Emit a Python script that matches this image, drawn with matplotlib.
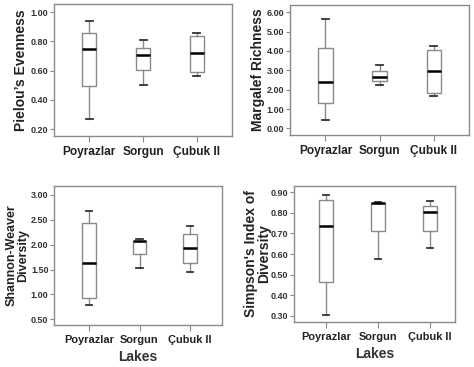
import matplotlib
matplotlib.use("Agg")
import matplotlib.pyplot as plt

plt.rcParams['font.family'] = ['Liberation Sans', 'DejaVu Sans']

lakes = ["Poyrazlar", "Sorgun", "Çubuk II"]

# [whislo, q1, median, q3, whishi] per lake
pielou = [[0.268, 0.495, 0.751, 0.857, 0.937],
          [0.501, 0.603, 0.710, 0.755, 0.807],
          [0.560, 0.590, 0.719, 0.839, 0.857]]
margalef = [[0.46, 1.29, 2.42, 4.15, 5.66],
            [2.25, 2.43, 2.64, 2.95, 3.27],
            [1.65, 1.85, 2.98, 4.05, 4.23]]
shannon = [[0.78, 0.92, 1.63, 2.44, 2.68],
           [1.53, 1.81, 2.07, 2.08, 2.12],
           [1.45, 1.63, 1.93, 2.21, 2.38]]
simpson = [[0.303, 0.465, 0.735, 0.864, 0.889],
           [0.576, 0.710, 0.848, 0.849, 0.851],
           [0.629, 0.711, 0.803, 0.832, 0.859]]

pielou_ticks = [0.20, 0.40, 0.60, 0.80, 1.00]
margalef_ticks = [0.0, 1.0, 2.0, 3.0, 4.0, 5.0, 6.0]
shannon_ticks = [0.50, 1.00, 1.50, 2.00, 2.50, 3.00]
simpson_ticks = [0.30, 0.40, 0.50, 0.60, 0.70, 0.80, 0.90]

panels = [
    dict(data=pielou, ticks=pielou_ticks, ylim=(0.152, 1.055), xlim=(0.35, 3.65),
         ylabel="Pielou’s Evenness", pos=[0.114, 0.629, 0.3755, 0.360], xlabel=None,
         ylfs=10.0, xtfs=8.6, ylx=28),
    dict(data=margalef, ticks=margalef_ticks, ylim=(-0.34, 6.36), xlim=(0.35, 3.65),
         ylabel="Margalef Richness", pos=[0.612, 0.632, 0.378, 0.354], xlabel=None,
         ylfs=10.0, xtfs=8.6, ylx=265),
    dict(data=shannon, ticks=shannon_ticks, ylim=(0.386, 3.17), xlim=(0.307, 3.63),
         ylabel="Shannon-Weaver\nDiversity", pos=[0.114, 0.114, 0.354, 0.379], xlabel="Lakes",
         ylfs=9.0, xtfs=7.9, ylx=29),
    dict(data=simpson, ticks=simpson_ticks, ylim=(0.271, 0.932), xlim=(0.385, 3.48),
         ylabel="Simpson's Index of\nDiversity", pos=[0.620, 0.123, 0.340, 0.371], xlabel="Lakes",
         ylfs=10.0, xtfs=7.9, ylx=271),
]

fig = plt.figure(figsize=(4.74, 3.67), dpi=100)
gray = "#8a8a8a"

for p in panels:
    ax = fig.add_axes(p["pos"])
    stats = []
    for name, v in zip(lakes, p["data"]):
        stats.append(dict(label=name, whislo=v[0], q1=v[1], med=v[2], q3=v[3], whishi=v[4], fliers=[]))
    ax.bxp(stats, positions=[1, 2, 3], widths=0.27, showfliers=False, patch_artist=True,
           boxprops=dict(facecolor="white", edgecolor=gray, linewidth=1.0),
           whiskerprops=dict(color=gray, linewidth=1.0),
           capprops=dict(color="#333333", linewidth=1.3),
           medianprops=dict(color="black", linewidth=1.8),
           capwidths=0.13)
    ax.set_xlim(*p["xlim"])
    ax.set_ylim(*p["ylim"])
    ax.set_yticks(p["ticks"])
    ax.set_yticklabels([f"{t:.2f}" for t in p["ticks"]], fontsize=6.5, fontweight="bold", color="#333333")
    ax.set_xticks([1, 2, 3])
    ax.set_xticklabels(lakes, fontsize=p["xtfs"], fontweight="bold", color="#222222")
    ax.tick_params(axis="y", length=3, width=0.8, color=gray, pad=1)
    ax.tick_params(axis="x", length=4, width=0.8, color=gray, pad=3)
    for s in ax.spines.values():
        s.set_color(gray)
        s.set_linewidth(1.0)
    ax.set_ylabel(p["ylabel"], fontsize=p["ylfs"], fontweight="bold", color="#222222",
                  linespacing=0.95)
    # place ylabel (right edge of rotated text) at given figure pixel x
    xfig = p["ylx"] / 474.0
    x_ax = (xfig - p["pos"][0]) / p["pos"][2]
    ax.yaxis.set_label_coords(x_ax, 0.5)
    if p["xlabel"]:
        ax.set_xlabel(p["xlabel"], fontsize=10, fontweight="bold", color="#333333", labelpad=4)

fig.savefig("out.png", dpi=100)
